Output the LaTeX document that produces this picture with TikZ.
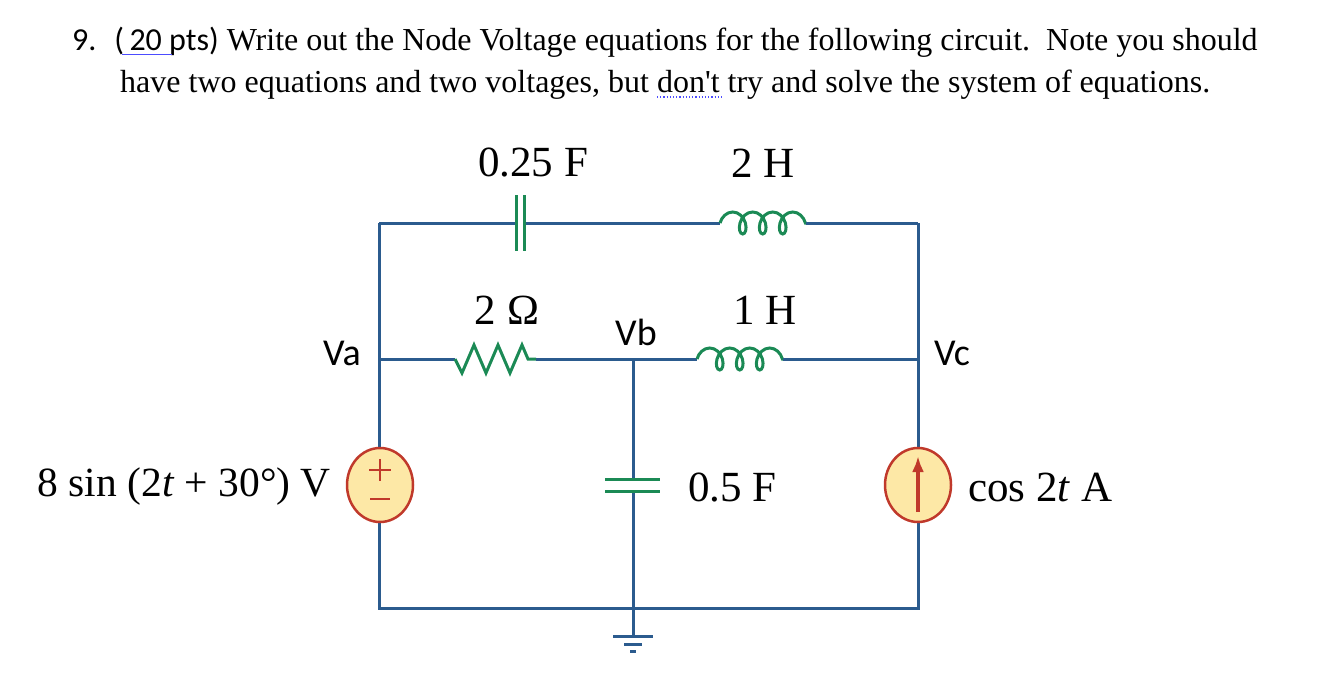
\documentclass[tikz,border=0pt]{standalone}
\usepackage{fontspec}
\setmainfont{Liberation Serif}
\newfontfamily\sansf{Carlito}
\usetikzlibrary{decorations.pathmorphing,shapes.geometric,arrows.meta}
\definecolor{wire}{HTML}{2B5B8E}
\definecolor{comp}{HTML}{1B8A55}
\definecolor{srcf}{HTML}{FDE8A6}
\definecolor{srcl}{HTML}{C0392B}
\begin{document}
\begin{tikzpicture}[x=1pt,y=-1pt,
  w/.style={draw=wire,line width=3pt},
  c/.style={draw=comp,line width=3pt},
  lab/.style={font=\fontsize{43}{48}\selectfont,inner sep=0},
  sl/.style={font=\sansf\fontsize{38}{42}\selectfont,inner sep=0},
  src/.style={draw=srcl,fill=srcf,line width=2.5pt,ellipse,minimum width=66pt,minimum height=74pt,inner sep=0},
  title/.style={font=\fontsize{32}{36}\selectfont,anchor=base west,inner sep=0}]
\useasboundingbox (0,0) rectangle (1324,688);
% title
\node[title] (t1) at (72,50) {{\sansf 9.}\hspace{18pt}{\sansf(\,20 pts)} Write out the Node Voltage equations for the following circuit.\ \ Note you should};
\node[title] (t2) at (120,92) {have two equations and two voltages, but don\textquotesingle t try and solve the system of equations.};
\draw[blue!70,line width=1pt] (122,54) -- (172,54);
\draw[blue!70,line width=1.2pt,dotted] (657,97) -- (722,97);
% coordinates
\coordinate (TL) at (379,223); \coordinate (TR) at (918,223);
\coordinate (ML) at (379,359); \coordinate (MR) at (918,359);
\coordinate (MB) at (633,359);
\coordinate (BL) at (379,608); \coordinate (BR) at (918,608);
\coordinate (BB) at (633,608);
% top branch
\draw[w] (TL) -- (516,223); \draw[w] (524,223) -- (720,223);
\draw[c] (516,195) -- (516,251); \draw[c] (524,195) -- (524,251);
\draw[c,decorate,decoration={coil,aspect=0.7,segment length=20pt,amplitude=11pt}] (720,223) -- (806,223);
\draw[w] (806,223) -- (TR);
% middle branch
\draw[w] (ML) -- (455,359);
\draw[c] (455,359) -- (462,373) -- (474,345) -- (486,373) -- (498,345) -- (510,373) -- (522,345) -- (528,359) -- (536,359);
\draw[w] (536,359) -- (MB) -- (697,359);
\draw[c,decorate,decoration={coil,aspect=0.7,segment length=20pt,amplitude=11pt}] (697,359) -- (783,359);
\draw[w] (783,359) -- (MR);
% verticals
\draw[w] (TL) -- (379,449); \draw[w] (379,521) -- (BL) -- (BR) -- (918,521);
\draw[w] (TR) -- (918,449);
\draw[w] (MB) -- (633,479); \draw[w] (633,491) -- (BB) -- (633,636);
\draw[c] (605,479) -- (660,479); \draw[c] (605,491) -- (660,491);
% ground
\draw[w] (613,636) -- (653,636); \draw[w] (624,644) -- (642,644); \draw[w] (630,651) -- (636,651);
% sources
\node[src] (vs) at (380,485) {};
\draw[srcl,line width=2.5pt] (369,470) -- (391,470) (380,459) -- (380,481) (370,499) -- (390,499);
\node[src] (cs) at (918,485) {};
\draw[srcl,line width=3.5pt,-{Latex[length=16pt,width=12pt]}] (918,512) -- (918,456);
% labels
\node[lab] (l1) at (533,163) {0.25 F};
\node[lab] (l2) at (763,163) {2 H};
\node[lab] (l3) at (507,310) {2 Ω};
\node[lab] (l4) at (765,310) {1 H};
\node[sl] (vb) at (636,332) {Vb};
\node[sl] (va) at (342,353) {Va};
\node[sl] (vc) at (952,353) {Vc};
\node[lab,anchor=east,font=\fontsize{41.5}{46}\selectfont] (l5) at (331,487) {8 sin (2\textit{t} + 30°) V};
\node[lab,anchor=west] (l6) at (688,487) {0.5 F};
\node[lab,anchor=west] (l7) at (968,487) {cos 2\textit{t} A};
\end{tikzpicture}
\end{document}
